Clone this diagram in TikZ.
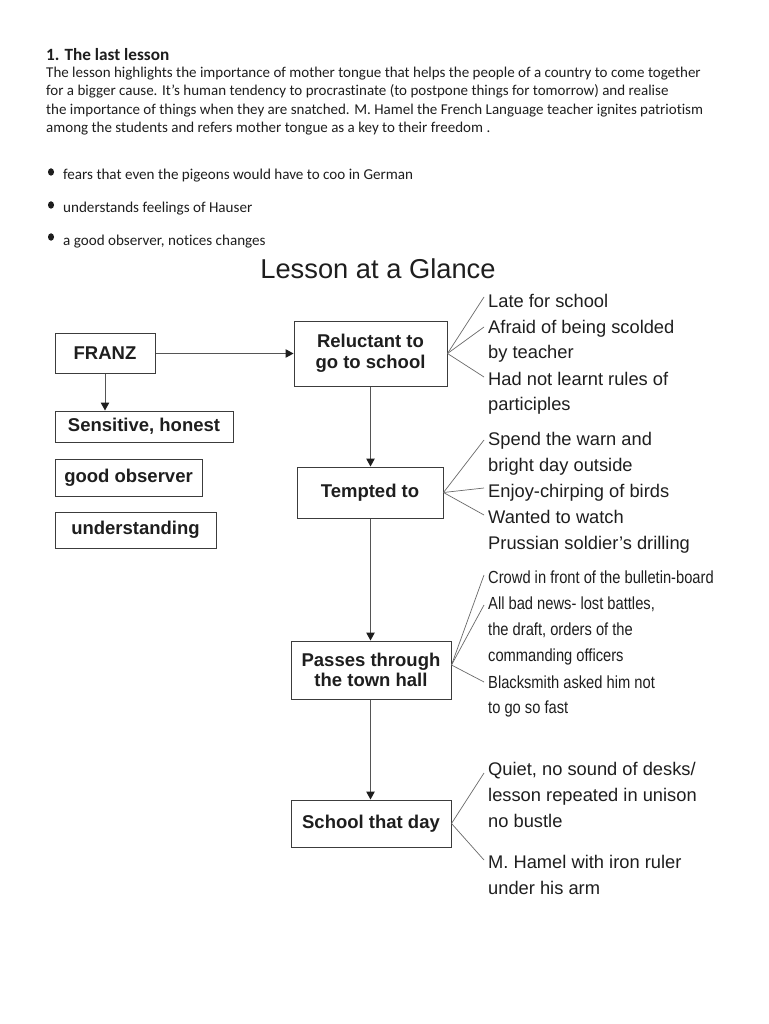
\documentclass[tikz,border=0pt]{standalone}
\usepackage{fontspec}
\setmainfont{Carlito}[RawFeature={-liga;-clig;-calt}]
\newfontfamily\arial{Liberation Sans}
\newfontfamily\arialn{Liberation Sans}[FakeStretch=0.84]
\usetikzlibrary{arrows.meta,shapes.geometric}
\definecolor{ink}{HTML}{1E1E1E}
\definecolor{boxline}{HTML}{3C3C3C}
\definecolor{arrline}{HTML}{555555}
\definecolor{fanline}{HTML}{6A6A6A}
\tikzset{
  bodytext/.style={anchor=base west, inner sep=0pt, text=ink, font=\fontsize{15}{18}\selectfont},
  bullettext/.style={anchor=base west, inner sep=0pt, text=ink, font=\fontsize{15.1}{18}\selectfont},
  bulletdot/.style={ellipse, fill=ink, inner sep=0pt, minimum width=6pt, minimum height=7.5pt},
  boxnode/.style={draw=boxline, line width=1pt, fill=white, inner sep=0pt, align=center,
    text=ink, font=\arial\bfseries\fontsize{18.5}{20.5}\selectfont},
  listtext/.style={anchor=base west, inner sep=0pt, text=ink, font=\arial\fontsize{18.3}{20}\selectfont},
  narrowtext/.style={anchor=base west, inner sep=0pt, text=ink, font=\arialn\fontsize{17.5}{20}\selectfont},
  flowarrow/.style={draw=arrline, line width=1pt, arrows={-{Triangle[length=8pt,width=8.5pt,color=ink]}}},
  fan/.style={draw=fanline, line width=0.7pt},
}
\begin{document}
\begin{tikzpicture}[x=1pt,y=-1pt]
\useasboundingbox (0,0) rectangle (768,1024);
\fill[white] (0,0) rectangle (768,1024);

% header text
\node[bodytext, font=\bfseries\fontsize{17.2}{18}\selectfont] (title) at (46,61) {1. The last lesson};
\node[bodytext] (p1) at (46,77.5) {The lesson highlights the importance of mother tongue that helps the people of a country to come together};
\node[bodytext] (p2) at (46,96) {for a bigger cause. It’s human tendency to procrastinate (to postpone things for tomorrow) and realise};
\node[bodytext] (p3) at (46,114.5) {the importance of things when they are snatched. M. Hamel the French Language teacher ignites patriotism};
\node[bodytext] (p4) at (46,133) {among the students and refers mother tongue as a key to their freedom .};

\node[bulletdot] (d1) at (51,172) {};
\node[bullettext] (b1) at (63,180) {fears that even the pigeons would have to coo in German};
\node[bulletdot] (d2) at (51,205) {};
\node[bullettext] (b2) at (63,213) {understands feelings of Hauser};
\node[bulletdot] (d3) at (51,237) {};
\node[bullettext] (b3) at (63,245) {a good observer, notices changes};

% heading
\node[anchor=base, inner sep=0pt, text=ink, font=\arial\fontsize{27.3}{30}\selectfont] (glance) at (378,278) {Lesson at a Glance};

% boxes
\node[boxnode, minimum width=100pt, minimum height=40pt] (franz) at (105,353) {FRANZ};
\node[boxnode, minimum width=178pt, minimum height=31pt] (sens) at (144,426.5) {Sensitive, honest};
\node[boxnode, minimum width=147pt, minimum height=37pt] (obs) at (128.5,477.5) {good observer};
\node[boxnode, minimum width=161pt, minimum height=36pt] (und) at (135.5,530) {understanding};
\node[boxnode, minimum width=153pt, minimum height=65pt] (rel) at (370.5,353.5) {Reluctant to\\go to school};
\node[boxnode, minimum width=146pt, minimum height=51pt] (tem) at (370,492.5) {Tempted to};
\node[boxnode, minimum width=160pt, minimum height=58pt] (pas) at (371,670) {Passes through\\the town hall};
\node[boxnode, minimum width=160pt, minimum height=47pt] (sch) at (371,823.5) {School that day};

% arrows
\draw[flowarrow] (franz.south) -- (sens.north -| franz.south);
\draw[flowarrow] (franz.east |- rel.west) -- (rel.west);
\draw[flowarrow] (rel.south) -- (tem.north -| rel.south);
\draw[flowarrow] (tem.south -| rel.south) -- (pas.north -| rel.south);
\draw[flowarrow] (pas.south -| rel.south) -- (sch.north -| rel.south);

% lists
\node[listtext] (r1) at (488,307) {Late for school};
\node[listtext] (r2) at (488,333) {Afraid of being scolded};
\node[listtext] (r3) at (488,358) {by teacher};
\node[listtext] (r4) at (488,385) {Had not learnt rules of};
\node[listtext] (r5) at (488,410) {participles};

\node[listtext] (t1) at (488,445) {Spend the warn and};
\node[listtext] (t2) at (488,471) {bright day outside};
\node[listtext] (t3) at (488,497) {Enjoy-chirping of birds};
\node[listtext] (t4) at (488,523) {Wanted to watch};
\node[listtext] (t5) at (488,549) {Prussian soldier’s drilling};

\node[narrowtext] (q1) at (488,583) {Crowd in front of the bulletin-board};
\node[narrowtext] (q2) at (488,609) {All bad news- lost battles,};
\node[narrowtext] (q3) at (488,635) {the draft, orders of the};
\node[narrowtext] (q4) at (488,661) {commanding officers};
\node[narrowtext] (q5) at (488,688) {Blacksmith asked him not};
\node[narrowtext] (q6) at (488,713) {to go so fast};

\node[listtext] (s1) at (488,775) {Quiet, no sound of desks/};
\node[listtext] (s2) at (488,801) {lesson repeated in unison};
\node[listtext] (s3) at (488,827) {no bustle};
\node[listtext] (s4) at (488,868) {M. Hamel with iron ruler};
\node[listtext] (s5) at (488,894) {under his arm};

% fan connectors
\coordinate (fr1) at (484,297);
\coordinate (fr2) at (484,327);
\coordinate (fr4) at (484,377);
\draw[fan] (rel.east) -- (fr1);
\draw[fan] (rel.east) -- (fr2);
\draw[fan] (rel.east) -- (fr4);

\coordinate (ft1) at (484,440);
\coordinate (ft3) at (484,488);
\coordinate (ft4) at (484,515);
\draw[fan] (tem.east) -- (ft1);
\draw[fan] (tem.east) -- (ft3);
\draw[fan] (tem.east) -- (ft4);

\coordinate (fp0) at ([yshift=5pt]pas.east);
\coordinate (fq1) at (484,575);
\coordinate (fq2) at (484,605);
\coordinate (fq5) at (484,682);
\draw[fan] (fp0) -- (fq1);
\draw[fan] (fp0) -- (fq2);
\draw[fan] (fp0) -- (fq5);

\coordinate (fs1) at (484,773);
\coordinate (fs4) at (484,860);
\draw[fan] (sch.east) -- (fs1);
\draw[fan] (sch.east) -- (fs4);
\end{tikzpicture}
\end{document}
